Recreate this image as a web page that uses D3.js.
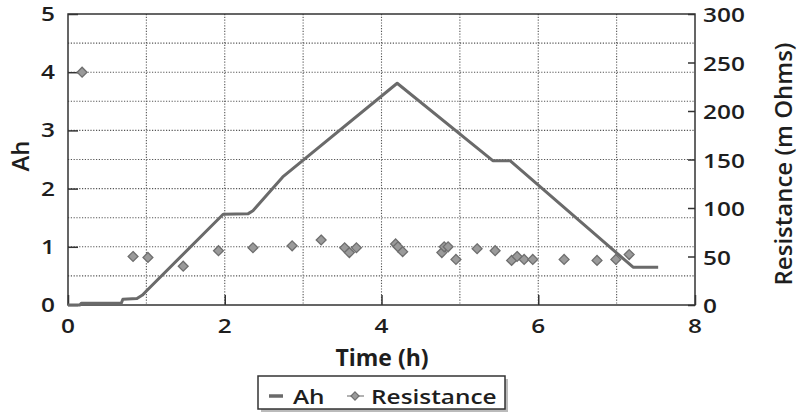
<!DOCTYPE html>
<html><head><meta charset="utf-8">
<script src="https://cdn.jsdelivr.net/npm/d3@7"></script>
<style>
body{margin:0;background:#fff;}
text{font-family:"Open Sans",sans-serif;fill:#1e1e1e;}
</style></head>
<body><svg id="c" width="800" height="420"></svg>
<script>
// Ah line (time h, Ah)
const ahTime = [0, 0.15, 0.17, 0.68, 0.7, 0.88, 0.95, 1.0, 1.98, 2.3, 2.36, 2.74, 4.2, 5.42, 5.64, 7.21, 7.53];
const ahValue = [0, 0, 0.03, 0.03, 0.1, 0.11, 0.17, 0.24, 1.56, 1.57, 1.62, 2.2, 3.81, 2.48, 2.48, 0.65, 0.65];
// Resistance points (time h, m Ohms)
const resTime = [0.18, 0.83, 1.02, 1.47, 1.92, 2.36, 2.86, 3.23, 3.53, 3.59, 3.68, 4.18, 4.21, 4.27, 4.77, 4.80, 4.85, 4.95, 5.22, 5.45, 5.66, 5.73, 5.82, 5.93, 6.33, 6.75, 6.99, 7.16];
const resValue = [240, 50, 49, 40, 56, 59, 61, 67, 59, 54, 59, 63, 60, 55, 54, 60, 60, 47, 58, 56, 46, 50, 47, 47, 47, 46, 47, 52];
const xTicks = [0, 2, 4, 6, 8];
const ahTicks = [0, 1, 2, 3, 4, 5];
const resTicks = [0, 50, 100, 150, 200, 250, 300];

const svg = d3.select("#c");
const L = 68, R = 695, T = 14, B = 305;
const x = d3.scaleLinear().domain([0, 8]).range([L, R]);
const y = d3.scaleLinear().domain([0, 5]).range([B, T]);
const y2 = d3.scaleLinear().domain([0, 300]).range([B, T]);
const SX = 1.22;

// grid
const g = svg.append("g");
g.selectAll(".vg").data(d3.range(1, 8)).join("line")
  .attr("x1", d => x(d)).attr("x2", d => x(d)).attr("y1", T).attr("y2", B)
  .attr("stroke", "#555").attr("stroke-width", 1.1).attr("stroke-dasharray", "1.2,1.6");
g.selectAll(".hg").data(d3.range(0.5, 5, 0.5)).join("line")
  .attr("x1", L).attr("x2", R).attr("y1", d => y(d)).attr("y2", d => y(d))
  .attr("stroke", "#555").attr("stroke-width", 1.1).attr("stroke-dasharray", "1.2,1.6");

// frame
svg.append("rect").attr("x", L).attr("y", T).attr("width", R - L).attr("height", B - T)
  .attr("fill", "none").attr("stroke", "#333").attr("stroke-width", 1.5);

// axes (inward ticks)
const axL = svg.append("g").attr("transform", `translate(${L},0)`)
  .call(d3.axisRight(y).tickValues(ahTicks).tickSize(10).tickFormat(""));
const axR = svg.append("g").attr("transform", `translate(${R},0)`)
  .call(d3.axisLeft(y2).tickValues(resTicks).tickSize(7).tickFormat(""));
const axB = svg.append("g").attr("transform", `translate(0,${B})`)
  .call(d3.axisTop(x).tickValues(xTicks).tickSize(10).tickFormat(""));
[axL, axR, axB].forEach(a => { a.select(".domain").remove(); a.selectAll("line").attr("stroke", "#333").attr("stroke-width", 1.5); });

function lbl(sel, fx, fy, anchor) {
  sel.attr("transform", d => `translate(${fx(d)},${fy(d)}) scale(${SX},1)`)
    .attr("text-anchor", anchor).style("font-size", "20px").style("font-weight", 600).text(d => d);
}
lbl(svg.selectAll(".ly").data(ahTicks).join("text"), d => 55, d => y(d) + 7, "end");
lbl(svg.selectAll(".ry").data(resTicks).join("text"), d => 703, d => y2(d) + 8, "start");
lbl(svg.selectAll(".bx").data(xTicks).join("text"), d => x(d), d => 333, "middle");

svg.append("text").attr("x", 382).attr("y", 366).attr("text-anchor", "middle")
  .style("font-size", "23px").style("font-weight", 700).text("Time (h)");
svg.append("text").attr("transform", "translate(29,156) rotate(-90)").attr("text-anchor", "middle")
  .style("font-size", "24px").style("font-weight", 600).text("Ah");
svg.append("text").attr("transform", "translate(792,164) rotate(-90)").attr("text-anchor", "middle")
  .style("font-size", "24px").style("font-weight", 600).text("Resistance (m Ohms)");

// line
const line = d3.line().x((d, i) => x(ahTime[i])).y((d, i) => y(ahValue[i]));
svg.append("path").datum(ahValue).attr("d", line)
  .attr("fill", "none").attr("stroke", "#6a6a6a").attr("stroke-width", 3).attr("stroke-linejoin", "round");

// diamonds
const sym = d3.symbol().type(d3.symbolDiamond2).size(62);
svg.selectAll(".pt").data(resValue).join("path")
  .attr("transform", (d, i) => `translate(${x(resTime[i])},${y2(d)})`)
  .attr("d", sym).attr("fill", "#9a9a9a").attr("stroke", "#6e6e6e").attr("stroke-width", 1.3);

// legend
const lg = svg.append("g");
lg.append("rect").attr("x", 261).attr("y", 379).attr("width", 247).attr("height", 33).attr("fill", "#bbb");
lg.append("rect").attr("x", 258).attr("y", 376).attr("width", 247).attr("height", 33)
  .attr("fill", "#fff").attr("stroke", "#333").attr("stroke-width", 1.5);
lg.append("line").attr("x1", 269).attr("x2", 283).attr("y1", 396).attr("y2", 396)
  .attr("stroke", "#6a6a6a").attr("stroke-width", 3.5);
lg.append("text").attr("transform", `translate(293,404) scale(${SX},1)`)
  .style("font-size", "20px").style("font-weight", 600).text("Ah");
lg.append("line").attr("x1", 347).attr("x2", 364).attr("y1", 396).attr("y2", 396)
  .attr("stroke", "#999").attr("stroke-width", 1.5);
lg.append("path").attr("transform", "translate(355,396)").attr("d", d3.symbol().type(d3.symbolDiamond2).size(42))
  .attr("fill", "#9a9a9a").attr("stroke", "#6e6e6e").attr("stroke-width", 1.2);
lg.append("text").attr("transform", `translate(371,404) scale(${SX},1)`)
  .style("font-size", "20px").style("font-weight", 600).text("Resistance");
</script></body></html>
